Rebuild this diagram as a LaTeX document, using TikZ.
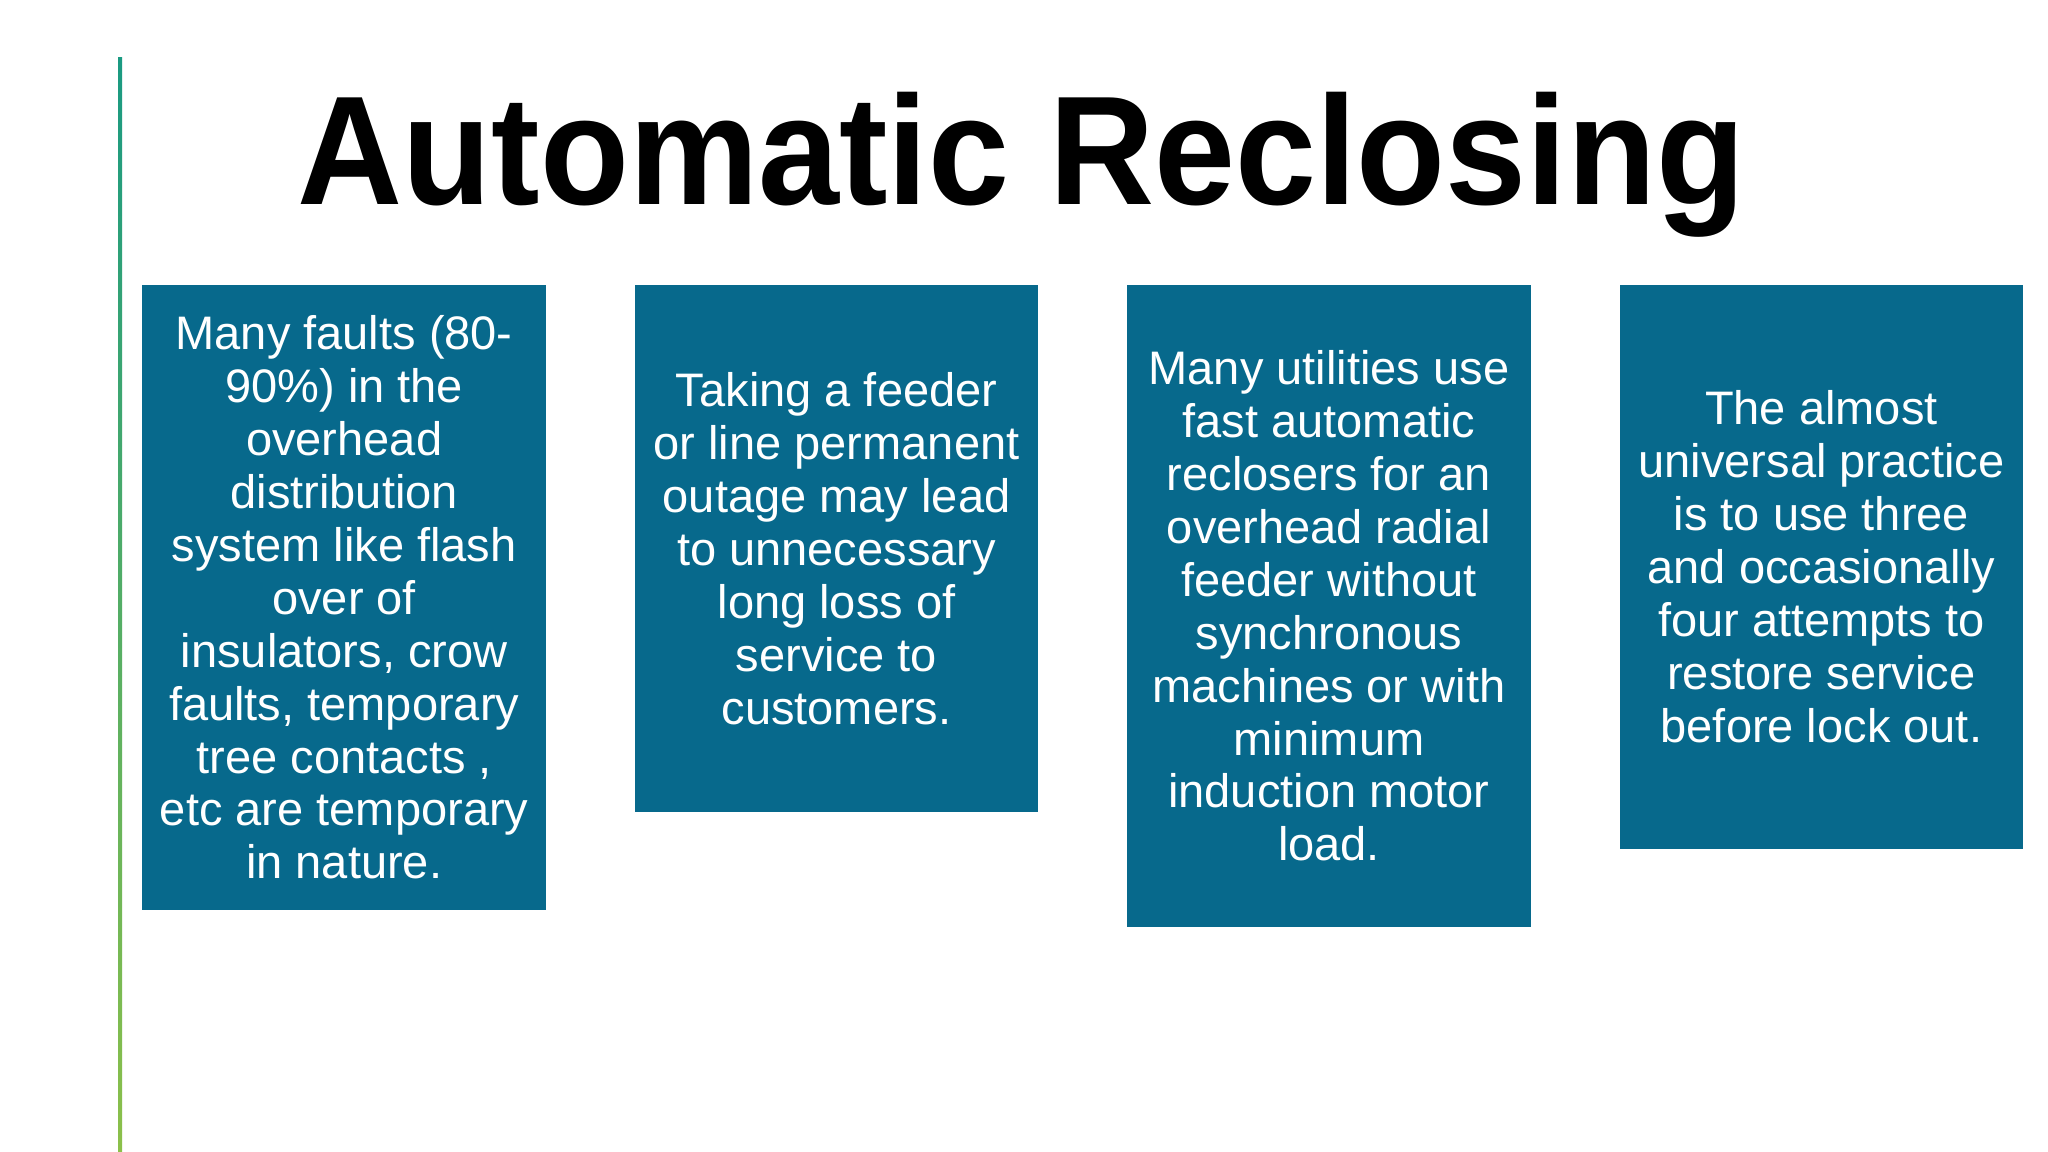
\documentclass[tikz,border=0pt]{standalone}
\usepackage{fontspec}
\setmainfont{Liberation Sans}
\begin{document}
\begin{tikzpicture}[x=0.5pt,y=-0.5pt,
  card/.style={fill=boxblue,draw=none},
  cardtext/.style={text=white,align=center,font=\fontsize{18}{20.25}\selectfont,inner sep=0pt}]
\definecolor{boxblue}{HTML}{07698C}
\definecolor{lineteal}{HTML}{1A9A82}
\definecolor{linegreen}{HTML}{8CC04A}
\fill[white] (0,0) rectangle (1568,882);
\useasboundingbox (0,0) rectangle (1568,882);
\shade[top color=lineteal,bottom color=linegreen] (90.5,44) rectangle (93.5,882);
\node (title) at (782,126) {\resizebox{554pt}{43pt}{\bfseries Automatic Reclosing}};
\fill[card] (109,218) rectangle (418,697) coordinate (b1);
\fill[card] (486,218) rectangle (795,622) coordinate (b2);
\fill[card] (863,218) rectangle (1172,710) coordinate (b3);
\fill[card] (1240,218) rectangle (1549,650) coordinate (b4);
\node[cardtext] (t1) at (263.5,457.5) {Many faults (80-\\90\%) in the\\overhead\\distribution\\system like flash\\over of\\insulators, crow\\faults, temporary\\tree contacts ,\\etc are temporary\\in nature.};
\node[cardtext] (t2) at (640.5,420) {Taking a feeder\\or line permanent\\outage may lead\\to unnecessary\\long loss of\\service to\\customers.};
\node[cardtext] (t3) at (1017.5,464) {Many utilities use\\fast automatic\\reclosers for an\\overhead radial\\feeder without\\synchronous\\machines or with\\minimum\\induction motor\\load.};
\node[cardtext] (t4) at (1394.5,434) {The almost\\universal practice\\is to use three\\and occasionally\\four attempts to\\restore service\\before lock out.};
\end{tikzpicture}
\end{document}
